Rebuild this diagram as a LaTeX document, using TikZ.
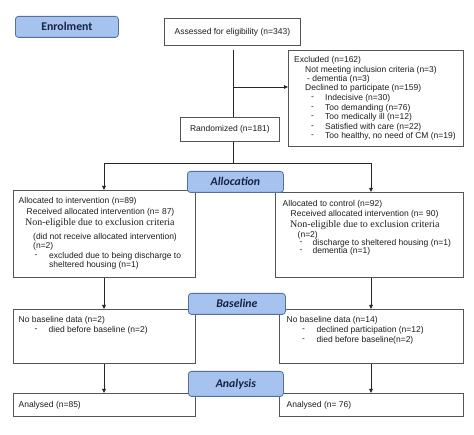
\documentclass[tikz,border=0pt]{standalone}
\usepackage{fontspec}
\setmainfont{Liberation Sans}
\newfontfamily\serifx{Liberation Serif}
\newfontfamily\phasefont{Carlito}
\usetikzlibrary{arrows.meta}
\definecolor{phasefill}{RGB}{166,195,240}
\definecolor{phasedraw}{RGB}{84,112,160}
\definecolor{phasetext}{RGB}{22,34,64}
\definecolor{boxdraw}{RGB}{85,85,85}
\definecolor{txt}{RGB}{30,30,30}
\begin{document}
\begin{tikzpicture}[x=1pt,y=-1pt,
  box/.style={draw=boxdraw,line width=0.8pt,fill=white,anchor=north west,inner sep=0pt,
    font=\fontsize{8.5}{10}\selectfont,text=txt},
  phase/.style={draw=phasedraw,line width=0.8pt,fill=phasefill,rounded corners=3pt,anchor=north west,
    inner sep=0pt,text=phasetext,font=\phasefont\fontsize{11.8}{13}\selectfont\bfseries\itshape},
  ln/.style={anchor=west,inner sep=0pt,text=txt,font=\fontsize{8.5}{10}\selectfont},
  sl/.style={anchor=west,inner sep=0pt,text=txt,font=\serifx\fontsize{10}{11}\selectfont},
  conn/.style={draw=black!85,line width=0.8pt},
  arr/.style={conn,-{Triangle[length=4pt,width=3.6pt]}}]
\useasboundingbox (0,0) rectangle (474,435);
\fill[white] (0,0) rectangle (474,435);

% coordinates
\coordinate (spine) at (233,0);
\coordinate (br) at (233,87);
\coordinate (sp) at (233,163);
\coordinate (lx) at (104,0);
\coordinate (rx) at (371,0);

% boxes
\node[box,minimum width=136pt,minimum height=27pt] (assessed) at (164,18) {};
\node[anchor=center,inner sep=0pt,text=txt,font=\fontsize{8.5}{10}\selectfont] (assessedt) at (assessed.center) {Assessed for eligibility (n=343)};
\node[box,minimum width=175pt,minimum height=96pt] (excluded) at (288,50) {};
\node[box,minimum width=99pt,minimum height=24pt] (randomized) at (180,117) {};
\node[anchor=center,inner sep=0pt,text=txt,font=\fontsize{8.5}{10}\selectfont] (randomizedt) at (randomized.center) {Randomized (n=181)};
\node[box,minimum width=182.5pt,minimum height=87pt] (interv) at (12.5,190) {};
\node[box,minimum width=188pt,minimum height=85pt] (control) at (275,192) {};
\node[box,minimum width=182.5pt,minimum height=54pt] (basel) at (12.5,309) {};
\node[box,minimum width=184pt,minimum height=54pt] (baser) at (279,309) {};
\node[box,minimum width=182.5pt,minimum height=23pt] (anal) at (12.5,393) {};
\node[box,minimum width=184pt,minimum height=23pt] (anar) at (279,393) {};

% connectors
\draw[conn] ([yshift=-4pt]assessed.south -| spine) -- (randomized.north -| spine);
\draw[arr] (br) -- (br -| excluded.west);
\draw[conn] (randomized.south -| spine) -- (sp);
\draw[arr] (sp) -| (lx |- interv.north);
\draw[arr] (sp) -| (rx |- control.north);
\draw[arr] (interv.south -| lx) -- (basel.north -| lx);
\draw[arr] (control.south -| rx) -- (baser.north -| rx);
\draw[arr] (basel.south -| lx) -- (anal.north -| lx);
\draw[arr] (baser.south -| rx) -- (anar.north -| rx);

% phase boxes
\node[phase,minimum width=103pt,minimum height=21pt,font=\phasefont\fontsize{11.8}{13}\selectfont\bfseries] (enrol) at (15,16) {Enrolment};
\node[phase,minimum width=96pt,minimum height=21pt] (alloc) at (187,171) {Allocation};
\node[phase,minimum width=97pt,minimum height=21pt] (basephase) at (188,293) {Baseline};
\node[phase,minimum width=95pt,minimum height=25pt] (analphase) at (188,371) {Analysis};

% excluded text
\node[ln] (ex1) at (294,60) {Excluded (n=162)};
\node[ln] (ex2) at (305,70) {Not meeting inclusion criteria (n=3)};
\node[ln] (ex3) at (307,79) {- dementia (n=3)};
\node[ln] (ex4) at (305,88) {Declined to participate (n=159)};
\node[ln] (ex5d) at (311,98) {-};
\node[ln] (ex5) at (325,98) {Indecisive (n=30)};
\node[ln] (ex6d) at (311,108) {-};
\node[ln] (ex6) at (325,108) {Too demanding (n=76)};
\node[ln] (ex7d) at (311,117.5) {-};
\node[ln] (ex7) at (325,117.5) {Too medically ill (n=12)};
\node[ln] (ex8d) at (311,127) {-};
\node[ln] (ex8) at (325,127) {Satisfied with care (n=22)};
\node[ln] (ex9d) at (311,136.5) {-};
\node[ln] (ex9) at (325,136.5) {Too healthy, no need of CM (n=19)};

% intervention text
\node[ln] (iv1) at (18.5,201) {Allocated to intervention (n=89)};
\node[ln] (iv2) at (26.5,212.5) {Received allocated intervention (n= 87)};
\node[sl] (iv3) at (25,223) {Non-eligible due to exclusion criteria};
\node[ln] (iv4) at (33,237.5) {(did not receive allocated intervention)};
\node[ln] (iv5) at (33,246.5) {(n=2)};
\node[ln] (iv6d) at (34.5,256) {-};
\node[ln] (iv6) at (49,256) {excluded due to being discharge to};
\node[ln] (iv7) at (49,265.5) {sheltered housing (n=1)};

% control text
\node[ln] (ct1) at (282.5,204.5) {Allocated to control (n=92)};
\node[ln] (ct2) at (290.5,214) {Received allocated intervention (n= 90)};
\node[sl] (ct3) at (290,225.5) {Non-eligible due to exclusion criteria};
\node[ln] (ct4) at (297.5,235) {(n=2)};
\node[ln] (ct5d) at (299.5,243) {-};
\node[ln] (ct5) at (312.5,243) {discharge to sheltered housing (n=1)};
\node[ln] (ct6d) at (299.5,251.5) {-};
\node[ln] (ct6) at (312.5,251.5) {dementia (n=1)};

% baseline text
\node[ln] (bl1) at (18.5,320.5) {No baseline data (n=2)};
\node[ln] (bl2d) at (34.5,330.5) {-};
\node[ln] (bl2) at (48.5,330.5) {died before baseline (n=2)};
\node[ln] (br1) at (286.5,320.5) {No baseline data (n=14)};
\node[ln] (br2d) at (302,330.5) {-};
\node[ln] (br2) at (316.5,330.5) {declined participation (n=12)};
\node[ln] (br3d) at (302,340.5) {-};
\node[ln] (br3) at (316.5,340.5) {died before baseline(n=2)};

% analysed text
\node[ln] (an1) at (18.5,405) {Analysed (n=85)};
\node[ln] (an2) at (286.5,405) {Analysed (n= 76)};
\end{tikzpicture}
\end{document}
